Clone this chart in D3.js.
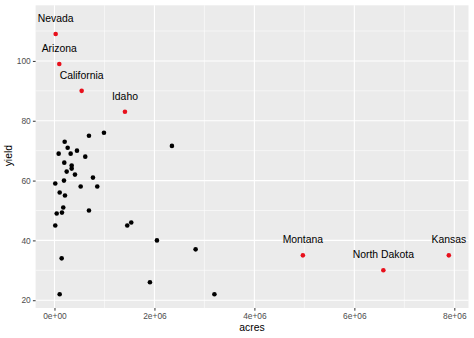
<!DOCTYPE html>
<html>
<head>
<meta charset="utf-8">
<script src="https://cdn.jsdelivr.net/npm/d3@7"></script>
<style>
  html, body { margin: 0; padding: 0; background: #ffffff; }
  svg { display: block; font-family: "Liberation Sans", Arial, Helvetica, sans-serif; }
</style>
</head>
<body>
<svg id="chart" width="474" height="338"></svg>
<script>
// Highlighted states (red, labelled)
const stateNames = ["Nevada", "Arizona", "California", "Idaho", "Montana", "North Dakota", "Kansas"];
const stateAcres = [24000, 96000, 544000, 1410000, 4970000, 6580000, 7890000];
const stateYield = [109, 99, 90, 83, 35, 30, 35];

// Remaining states (black)
const otherAcres = [690000, 990000, 2350000, 204000, 264000, 84000, 324000, 450000, 616000, 196000,
                    344000, 344000, 244000, 410000, 770000, 190000, 16000, 524000, 856000, 104000,
                    210000, 176000, 150000, 44000, 690000, 16000, 1536000, 1456000, 2050000, 144000,
                    1910000, 104000, 2824000, 3200000];
const otherYield = [75, 76, 71.6, 73, 71, 69, 69, 70, 68, 66,
                    65, 64, 63, 62, 61, 60, 59, 58, 58, 56,
                    55, 51, 49.3, 49, 50, 45, 46, 45, 40, 34,
                    26, 22, 37, 22];

// Axis ticks
const xTicks = [0, 2000000, 4000000, 6000000, 8000000];
const xMinor = [1000000, 3000000, 5000000, 7000000];
const yTicks = [20, 40, 60, 80, 100];
const yMinor = [30, 50, 70, 90, 110];

const labelNudge = 5;  // labels sit this many yield units above their point

const svg = d3.select("#chart");
const panel = { left: 35.6, right: 468.5, top: 5.3, bottom: 308 };

// Scale domains cover points and label anchors, padded by 5% on each side
const allX = otherAcres.concat(stateAcres);
const allY = otherYield.concat(stateYield, stateYield.map(v => v + labelNudge));
function padded(vals) {
  const [lo, hi] = d3.extent(vals);
  const pad = (hi - lo) * 0.05;
  return [lo - pad, hi + pad];
}
const x = d3.scaleLinear().domain(padded(allX)).range([panel.left, panel.right]);
const y = d3.scaleLinear().domain(padded(allY)).range([panel.bottom, panel.top]);

// Scientific labels in the form 2e+06
function sci(v) {
  if (v === 0) return "0e+00";
  const e = Math.floor(Math.log10(Math.abs(v)));
  const m = Math.round(v / Math.pow(10, e));
  const sign = e < 0 ? "-" : "+";
  return m + "e" + sign + String(Math.abs(e)).padStart(2, "0");
}

// Panel background
svg.append("rect")
  .attr("x", panel.left).attr("y", panel.top)
  .attr("width", panel.right - panel.left).attr("height", panel.bottom - panel.top)
  .attr("fill", "#EBEBEB");

const grid = svg.append("g");
grid.selectAll(".xminor").data(xMinor).enter().append("line")
  .attr("x1", d => x(d)).attr("x2", d => x(d))
  .attr("y1", panel.top).attr("y2", panel.bottom)
  .attr("stroke", "#ffffff").attr("stroke-width", 0.55);
grid.selectAll(".yminor").data(yMinor).enter().append("line")
  .attr("y1", d => y(d)).attr("y2", d => y(d))
  .attr("x1", panel.left).attr("x2", panel.right)
  .attr("stroke", "#ffffff").attr("stroke-width", 0.55);
grid.selectAll(".xmajor").data(xTicks).enter().append("line")
  .attr("x1", d => x(d)).attr("x2", d => x(d))
  .attr("y1", panel.top).attr("y2", panel.bottom)
  .attr("stroke", "#ffffff").attr("stroke-width", 1.1);
grid.selectAll(".ymajor").data(yTicks).enter().append("line")
  .attr("y1", d => y(d)).attr("y2", d => y(d))
  .attr("x1", panel.left).attr("x2", panel.right)
  .attr("stroke", "#ffffff").attr("stroke-width", 1.1);

// Axes
const xAxis = d3.axisBottom(x).tickValues(xTicks).tickFormat(sci).tickSize(2.7).tickPadding(2.2);
const yAxis = d3.axisLeft(y).tickValues(yTicks).tickSize(2.7).tickPadding(2.2);

const gx = svg.append("g").attr("transform", `translate(0,${panel.bottom})`).call(xAxis);
const gy = svg.append("g").attr("transform", `translate(${panel.left},0)`).call(yAxis);
[gx, gy].forEach(g => {
  g.select(".domain").remove();
  g.selectAll(".tick line").attr("stroke", "#333333").attr("stroke-width", 1);
  g.selectAll(".tick text")
    .attr("fill", "#4D4D4D")
    .style("font-size", "8.4px")
    .style("font-family", "'Liberation Sans', Arial, Helvetica, sans-serif");
});

// Axis titles
svg.append("text")
  .attr("x", (panel.left + panel.right) / 2).attr("y", 330.8)
  .attr("text-anchor", "middle")
  .style("font-size", "10.4px").attr("fill", "#000")
  .text("acres");
svg.append("text")
  .attr("transform", `translate(12.2,${(panel.top + panel.bottom) / 2 - 1}) rotate(-90)`)
  .attr("text-anchor", "middle")
  .style("font-size", "10.4px").attr("fill", "#000")
  .text("yield");

// Points
svg.append("g").selectAll("circle").data(d3.range(otherAcres.length)).enter().append("circle")
  .attr("cx", i => x(otherAcres[i])).attr("cy", i => y(otherYield[i]))
  .attr("r", 2.3).attr("fill", "#000000");

svg.append("g").selectAll("circle").data(d3.range(stateNames.length)).enter().append("circle")
  .attr("cx", i => x(stateAcres[i])).attr("cy", i => y(stateYield[i]))
  .attr("r", 2.3).attr("fill", "#E8101C");

// State labels
svg.append("g").selectAll("text").data(d3.range(stateNames.length)).enter().append("text")
  .attr("x", i => x(stateAcres[i]))
  .attr("y", i => y(stateYield[i] + labelNudge))
  .attr("dy", "0.28em")
  .attr("text-anchor", "middle")
  .style("font-size", "10.4px").attr("fill", "#000")
  .text(i => stateNames[i]);
</script>
</body>
</html>
